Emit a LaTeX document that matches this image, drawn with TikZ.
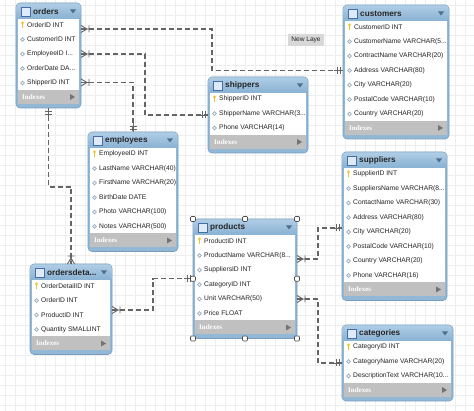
\documentclass[tikz,border=0pt]{standalone}
\usepackage{fontspec}
\setmainfont{Liberation Sans}
\newfontfamily\idxfont{Liberation Serif}
\usetikzlibrary{calc}
\definecolor{hdrtop}{RGB}{176,205,229}
\definecolor{hdrbot}{RGB}{136,177,211}
\definecolor{frm}{RGB}{146,184,214}
\definecolor{frmline}{RGB}{118,158,194}
\definecolor{idxc}{RGB}{192,192,192}
\definecolor{conncol}{RGB}{100,100,100}
\definecolor{gridc}{RGB}{238,238,238}
\definecolor{txtc}{RGB}{35,35,35}
\definecolor{keyc}{RGB}{236,196,40}
\definecolor{circc}{RGB}{150,168,186}
\definecolor{tric}{RGB}{80,110,140}
\definecolor{iconc}{RGB}{70,110,165}
\definecolor{iconf}{RGB}{222,234,247}
\definecolor{layerc}{RGB}{216,216,216}
\newcommand\erdots{.\kern0pt.\kern0pt.}
\tikzset{
  conn/.style={draw=conncol, line width=1.1pt, dash pattern=on 5pt off 3pt},
  ermark/.style={draw=conncol, line width=0.9pt, solid},
  rowtext/.style={anchor=west, inner sep=0pt, font=\fontsize{6.7}{7}\selectfont, text=txtc},
  titletext/.style={anchor=west, inner sep=0pt, font=\bfseries\fontsize{8.2}{9}\selectfont, text=black!85},
  idxtext/.style={anchor=west, inner sep=0pt, font=\idxfont\bfseries\fontsize{7}{8}\selectfont, text=white},
  handle/.style={draw=black!70, fill=white, line width=0.7pt, minimum size=5pt, inner sep=0pt, rounded corners=1pt},
  onemk/.pic={\draw[ermark] (0,0) -- (9,0) (3,-3.5) -- (3,3.5) (6,-3.5) -- (6,3.5);},
  manymk/.pic={\draw[ermark] (0,-3.5) -- (6,0) -- (0,3.5) (0,0) -- (11,0) (8,-3.5) -- (8,3.5);}
}
% #1 id, #2 left, #3 top, #4 width, #5 title, #6 rows
\newcommand\ertable[6]{%
  \foreach \r [count=\i] in {#6} {\xdef\ernrows{\i}}%
  \pgfmathsetmacro\erlast{#3+22+(\ernrows-1)*14.5}%
  \pgfmathsetmacro\erbot{\erlast+25}%
  \pgfmathsetmacro\erh{\erbot-(#3)}%
  \path[fill=frm, draw=frmline, line width=0.6pt, rounded corners=4pt] (#2,#3) rectangle (#2+#4,\erbot);
  \path[top color=hdrtop, bottom color=hdrbot] (#2+0.3,#3+16) [rounded corners=3.7pt] -- (#2+0.3,#3+0.3) -- (#2+#4-0.3,#3+0.3) [sharp corners] -- (#2+#4-0.3,#3+16) -- cycle;
  \fill[white] (#2+2,#3+16) rectangle (#2+#4-2,\erlast+7);
  \fill[idxc] (#2+2,\erlast+7) rectangle (#2+#4-2,\erlast+21);
  \node[inner sep=0pt, outer sep=0pt, minimum width=#4 pt, minimum height=\erh pt, anchor=north west] (#1) at (#2,#3) {};
  \draw[iconc, fill=iconf, line width=0.7pt] (#2+5,#3+4) rectangle (#2+14,#3+13);
  \node[titletext] (#1-title) at (#2+17,#3+8.5) {#5};
  \fill[tric] (#2+#4-11,#3+6.5) -- (#2+#4-5,#3+6.5) -- (#2+#4-8,#3+10.5) -- cycle;
  \foreach \r [count=\i] in {#6} {%
    \pgfmathsetmacro\ry{#3+22+(\i-1)*14.5}%
    \ifnum\i=1
      \fill[keyc] (#2+6.5,\ry-2.2) circle (1.5);
      \fill[keyc] (#2+6,\ry-1.5) rectangle (#2+7,\ry+3);
    \else
      \draw[circc, fill=white, line width=0.6pt] (#2+6.5,\ry) circle (1.9);
    \fi
    \node[rowtext] (#1-r\i) at (#2+11,\ry) {\r};
  }%
  \node[idxtext] (#1-idx) at (#2+6,\erlast+14) {Indexes};
  \fill[black!55] (#2+#4-11,\erlast+11) -- (#2+#4-6,\erlast+14) -- (#2+#4-11,\erlast+17) -- cycle;
}
\begin{document}
\begin{tikzpicture}[x=1pt,y=-1pt]
\useasboundingbox (0,0) rectangle (474,411);
\fill[white] (0,0) rectangle (474,411);
\foreach \g in {5,15,...,474} \draw[gridc, line width=0.5pt] (\g,0) -- (\g,411);
\foreach \g in {5,15,...,411} \draw[gridc, line width=0.5pt] (0,\g) -- (474,\g);

\ertable{orders}{16}{3}{65}{orders}{OrderID INT, CustomerID INT, EmployeeID I\erdots, OrderDate DA\erdots, ShipperID INT}
\ertable{customers}{343}{5}{106}{customers}{CustomerID INT, CustomerName VARCHAR(5\erdots, ContractName VARCHAR(20), Address VARCHAR(80), City VARCHAR(20), PostalCode VARCHAR(10), Country VARCHAR(20)}
\ertable{shippers}{208}{77}{100}{shippers}{ShipperID INT, ShipperName VARCHAR(3\erdots, Phone VARCHAR(14)}
\ertable{employees}{88}{132}{90}{employees}{EmployeeID INT, LastName VARCHAR(40), FirstName VARCHAR(20), BirthDate DATE, Photo VARCHAR(100), Notes VARCHAR(500)}
\ertable{suppliers}{342}{152}{105}{suppliers}{SupplierID INT, SuppliersName VARCHAR(8\erdots, ContactName VARCHAR(30), Address VARCHAR(80), City VARCHAR(20), PostalCode VARCHAR(10), Country VARCHAR(20), Phone VARCHAR(16)}
\ertable{ordersdetails}{30}{264}{82}{ordersdeta\erdots}{OrderDetailID INT, OrderID INT, ProductID INT, Quantity SMALLINT}
\ertable{products}{193}{219}{104}{products}{ProductID INT, ProductName VARCHAR(8\erdots, SuppliersID INT, CategoryID INT, Unit VARCHAR(50), Price FLOAT}
\ertable{categories}{342}{325}{111}{categories}{CategoryID INT, CategoryName VARCHAR(20), DescriptionText VARCHAR(10\erdots}

% layer label
\node[fill=layerc, inner xsep=3pt, inner ysep=3pt, font=\fontsize{6.6}{7}\selectfont, text=txtc] (layer) at (306,40) {New Laye};

% connectors
\draw[conn] (orders.east |- 0,29) -| (212,70.5) -- (customers.west |- customers-r4);
\draw[conn] (orders.east |- orders-r3) -| (145,115) -- (shippers.west |- 0,115);
\draw[conn] (orders.east |- 0,82.5) -| (employees.north);
\draw[conn] (orders.south) |- (ordersdetails.north |- 0,187) -- (ordersdetails.north);
\draw[conn] (ordersdetails.east |- 0,310) -- (153,310) |- (products.west);
\draw[conn] (products.east |- 0,259) -| (318,228) -- (suppliers.west |- 0,228);
\draw[conn] (products.east |- 0,299) -| (318,363) -- (categories.west |- 0,363);

% cardinality marks
\pic at (orders.east |- 0,29) {manymk};
\pic at (orders.east |- orders-r3) {manymk};
\pic at (orders.east |- 0,82.5) {manymk};
\pic[rotate=-90] at (orders.south) {onemk};
\pic[rotate=180] at (customers.west |- customers-r4) {onemk};
\pic[rotate=180] at (shippers.west |- 0,115) {onemk};
\pic[rotate=90] at (employees.north) {onemk};
\pic[rotate=90] at (ordersdetails.north) {manymk};
\pic at (ordersdetails.east |- 0,310) {manymk};
\pic[rotate=180] at (products.west) {onemk};
\pic at (products.east |- 0,259) {manymk};
\pic at (products.east |- 0,299) {manymk};
\pic[rotate=180] at (suppliers.west |- 0,228) {onemk};
\pic[rotate=180] at (categories.west |- 0,363) {onemk};

% selection handles on products
\foreach \a [count=\k] in {north west, north, north east, west, east, south west, south, south east}
  \node[handle] (h\k) at (products.\a) {};
\end{tikzpicture}
\end{document}
